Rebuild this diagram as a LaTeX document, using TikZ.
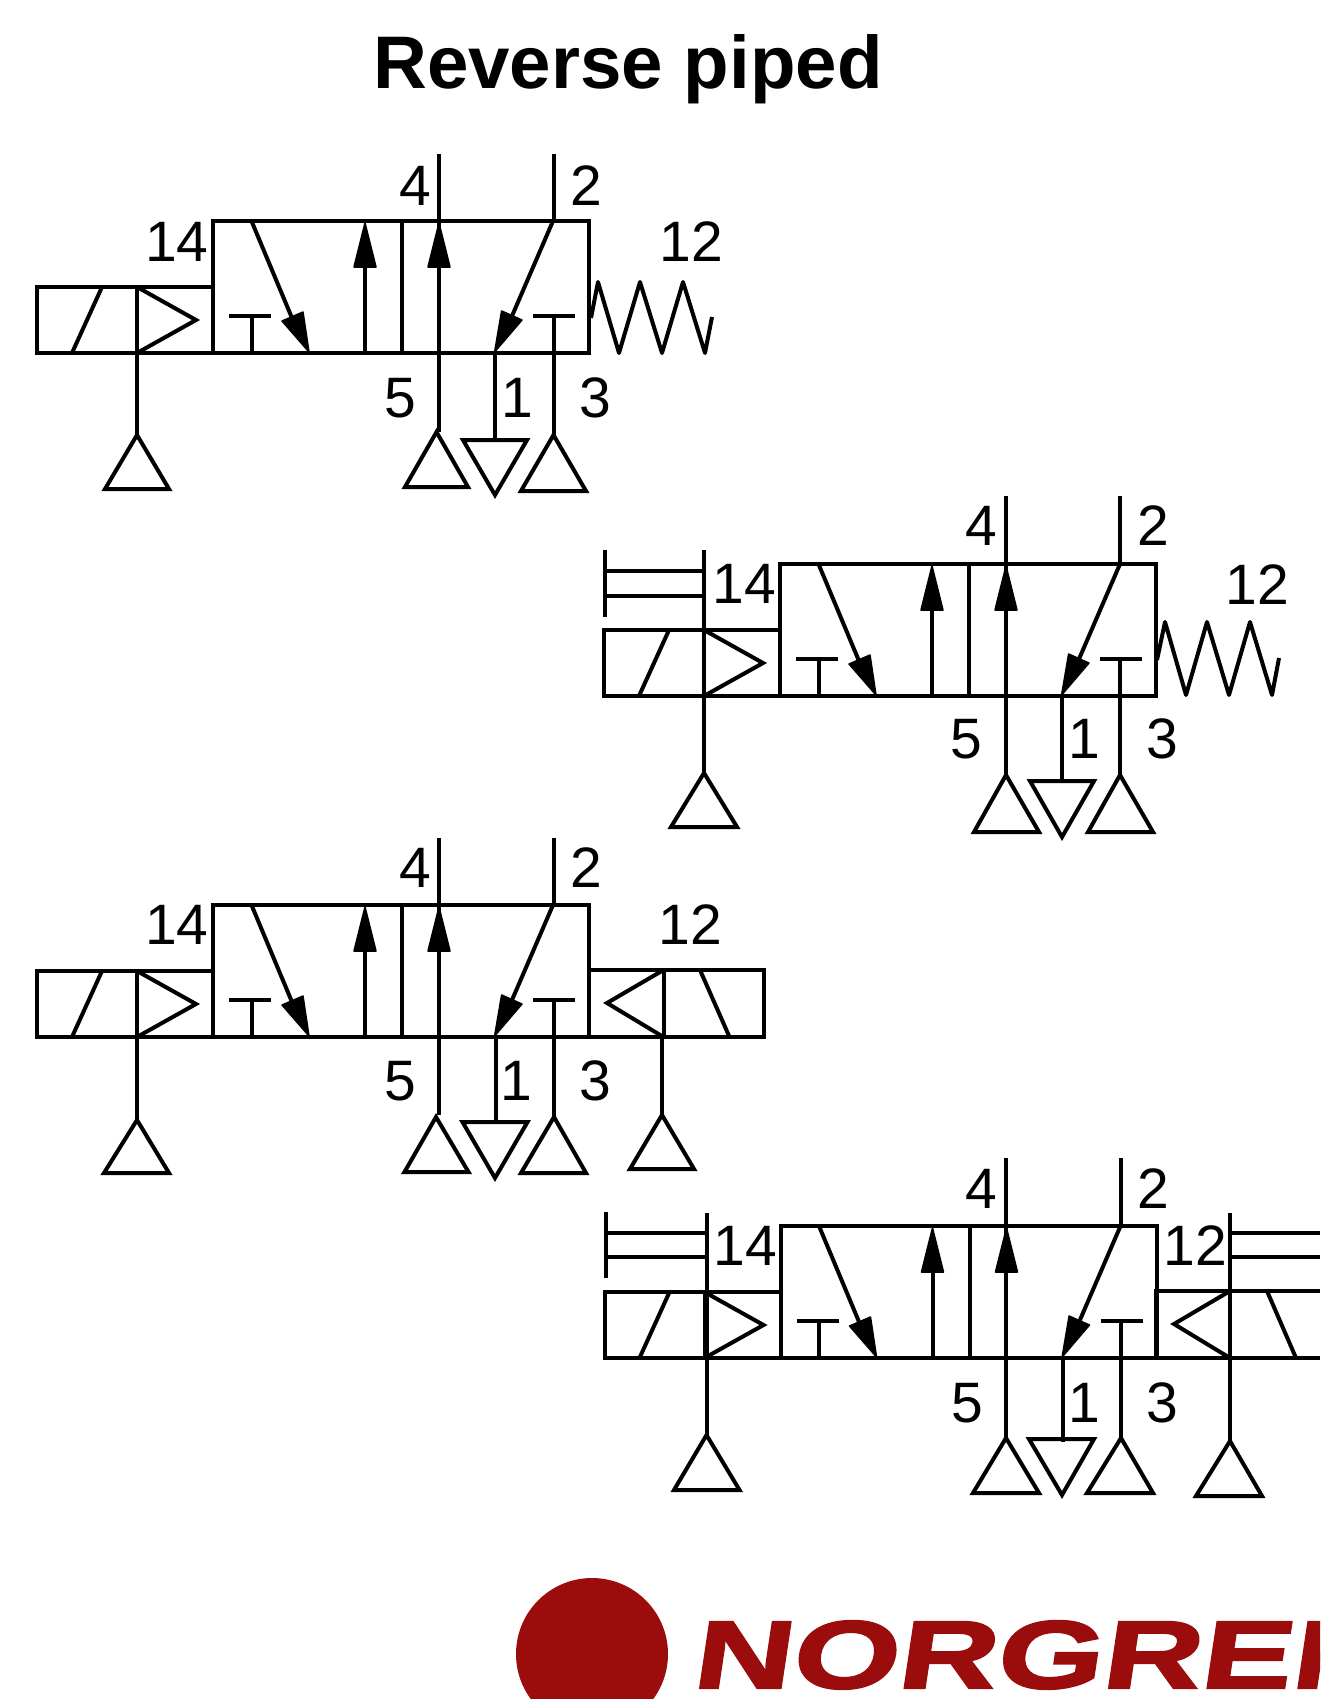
\documentclass[tikz,border=0pt]{standalone}
\usepackage{fontspec}
\setmainfont{Liberation Sans}
\newfontfamily\logofont[FakeStretch=1.42,FakeSlant=0.15,FakeBold=2.5]{Liberation Sans Bold}
\definecolor{norgrenred}{HTML}{9B0D0D}
\tikzset{
  wire/.style={line width=4pt,line join=miter,miter limit=10},
  head/.style={fill=black,draw=black,line width=1.5pt,line join=round},
  lab/.style={inner sep=0pt,font=\fontsize{57}{57}\selectfont},
}
\newcommand{\lbl}[4]{\node[lab] (#1) at (#2,#3) {#4};}
\newcommand{\valvecore}{%
  \draw[wire] (213,221) rectangle (589,353);
  \draw[wire] (402,221) -- (402,353);
  % left solenoid
  \draw[wire] (213,287) -- (37,287) -- (37,353) -- (213,353);
  \draw[wire] (72,353) -- (102,287);
  \draw[wire] (137,287) -- (137,353);
  \draw[wire] (137,287) -- (196,320) -- (137,353);
  % diagonal arrows
  \draw[wire] (251.5,221) -- (292,318);
  \fill[head] (309,352) -- (282,321) -- (303,312) -- cycle;
  \draw[wire] (553,221) -- (512,316);
  \fill[head] (494.6,352) -- (501.6,311) -- (522,320) -- cycle;
  % straight arrows
  \draw[wire] (365,267) -- (365,353);
  \fill[head] (365,223) -- (354,267) -- (376,267) -- cycle;
  \fill[head] (439,223) -- (428,267) -- (450,267) -- cycle;
  % blocked ports
  \draw[wire] (229,316) -- (271,316);
  \draw[wire] (251.5,316) -- (251.5,353);
  \draw[wire] (533,316) -- (575,316);
}
\begin{document}
\begin{tikzpicture}[x=1pt,y=-1pt]
\useasboundingbox (0,0) rectangle (1320,1699);
\clip (0,0) rectangle (1320,1699);
\node[inner sep=0pt,font=\fontsize{74.5}{74.5}\selectfont\bfseries] (title) at (628,69) {Reverse piped};

% ---------- diagram 1
\valvecore
\draw[wire] (439,154) -- (439,432);
\draw[wire] (553.5,154) -- (553.5,221);
\draw[wire] (553.5,316) -- (553.5,435);
\draw[wire] (137,353) -- (137,435);
\draw[wire] (494.6,353) -- (494.6,440);
\draw[wire] (436.5,432) -- (468,487) -- (405,487) -- cycle;
\draw[wire] (553.5,435) -- (586,491) -- (521,491) -- cycle;
\draw[wire] (137,435) -- (169,489) -- (105,489) -- cycle;
\draw[wire] (463,440) -- (527,440) -- (495,495) -- cycle;
\draw[wire,line join=round] (591,318) -- (598,282) -- (619,353) -- (640,282) -- (662,353) -- (683,282) -- (705,353) -- (712,317);
\lbl{a4}{415}{186}{4}\lbl{a2}{586}{186}{2}\lbl{a14}{177}{242}{14}\lbl{a12}{691}{242}{12}
\lbl{a5}{400}{398}{5}\lbl{a1}{517}{398}{1}\lbl{a3}{595}{398}{3}

% ---------- diagram 2
\begin{scope}[shift={(567,343)}]\valvecore\end{scope}
\draw[wire] (1006,496) -- (1006,775);
\draw[wire] (1120,496) -- (1120,564);
\draw[wire] (1120,659) -- (1120,775);
\draw[wire] (704,550) -- (704,773);
\draw[wire] (1062,696) -- (1062,781);
\draw[wire] (605,550) -- (605,617);
\draw[wire] (605,571) -- (706,571);
\draw[wire] (605,596) -- (706,596);
\draw[wire] (1006,775) -- (1039,832) -- (974,832) -- cycle;
\draw[wire] (1120,775) -- (1153,832) -- (1088,832) -- cycle;
\draw[wire] (704,773) -- (737,827) -- (671,827) -- cycle;
\draw[wire] (1030,781) -- (1094,781) -- (1062,837) -- cycle;
\draw[wire,line join=round] (1157,660) -- (1165,622) -- (1186,695) -- (1207,622) -- (1229,695) -- (1250,622) -- (1272,695) -- (1279,658);
\lbl{b4}{981}{526}{4}\lbl{b2}{1153}{526}{2}\lbl{b14}{744}{584}{14}\lbl{b12}{1257}{585}{12}
\lbl{b5}{966}{739}{5}\lbl{b1}{1084}{739}{1}\lbl{b3}{1162}{739}{3}

% ---------- diagram 3
\begin{scope}[shift={(0,684)}]\valvecore\end{scope}
\draw[wire] (588,970) -- (764,970) -- (764,1037) -- (588,1037);
\draw[wire] (663.5,970) -- (663.5,1037);
\draw[wire] (663.5,970) -- (607,1003) -- (663.5,1037);
\draw[wire] (700,970) -- (729.5,1037);
\draw[wire] (439,838) -- (439,1115);
\draw[wire] (554,838) -- (554,905);
\draw[wire] (554,1000) -- (554,1117);
\draw[wire] (137,1037) -- (137,1120);
\draw[wire] (496,1037) -- (496,1122);
\draw[wire] (662,1037) -- (662,1115);
\draw[wire] (436,1117) -- (468.5,1172) -- (404.5,1172) -- cycle;
\draw[wire] (554,1117) -- (586,1173) -- (521,1173) -- cycle;
\draw[wire] (137,1120) -- (169,1173) -- (104,1173) -- cycle;
\draw[wire] (462.5,1122) -- (527.5,1122) -- (495,1178) -- cycle;
\draw[wire] (662,1115) -- (694,1169) -- (630,1169) -- cycle;
\lbl{c4}{415}{868}{4}\lbl{c2}{586}{868}{2}\lbl{c14}{177}{925}{14}\lbl{c12}{690}{925}{12}
\lbl{c5}{400}{1081}{5}\lbl{c1}{516}{1081}{1}\lbl{c3}{595}{1081}{3}

% ---------- diagram 4
\begin{scope}[shift={(567.5,1005)}]\valvecore\end{scope}
\draw[wire] (1320,1291) -- (1156,1291) -- (1156,1358) -- (1320,1358);
\draw[wire] (1230,1213) -- (1230,1441);
\draw[wire] (1230,1291) -- (1174,1324) -- (1230,1358);
\draw[wire] (1267,1291) -- (1296,1358);
\draw[wire] (1230,1233) -- (1320,1233);
\draw[wire] (1230,1257) -- (1320,1257);
\draw[wire] (1006,1158) -- (1006,1438);
\draw[wire] (1120.5,1158) -- (1120.5,1226);
\draw[wire] (1120.5,1321) -- (1120.5,1438);
\draw[wire] (706.5,1213) -- (706.5,1435);
\draw[wire] (1063,1358) -- (1063,1442);
\draw[wire] (606,1212) -- (606,1278);
\draw[wire] (606,1233) -- (706,1233);
\draw[wire] (606,1257) -- (706,1257);
\draw[wire] (1006,1438) -- (1039,1493) -- (973,1493) -- cycle;
\draw[wire] (1121,1438) -- (1153,1493) -- (1087,1493) -- cycle;
\draw[wire] (706.5,1435) -- (739.5,1490) -- (674,1490) -- cycle;
\draw[wire] (1029,1439) -- (1094,1439) -- (1062,1495) -- cycle;
\draw[wire] (1230,1441) -- (1262,1496) -- (1196,1496) -- cycle;
\lbl{d4}{981}{1189}{4}\lbl{d2}{1153}{1189}{2}\lbl{d14}{745}{1246}{14}\lbl{d12}{1195}{1246}{12}
\lbl{d5}{967}{1403}{5}\lbl{d1}{1084}{1403}{1}\lbl{d3}{1162}{1403}{3}

% ---------- logo
\fill[norgrenred] (592,1654) circle (76);
\node[anchor=base west,inner sep=0pt,text=norgrenred,font=\logofont\fontsize{96}{96}\selectfont] (logo) at (691,1688) {NORGREN};
\end{tikzpicture}
\end{document}
